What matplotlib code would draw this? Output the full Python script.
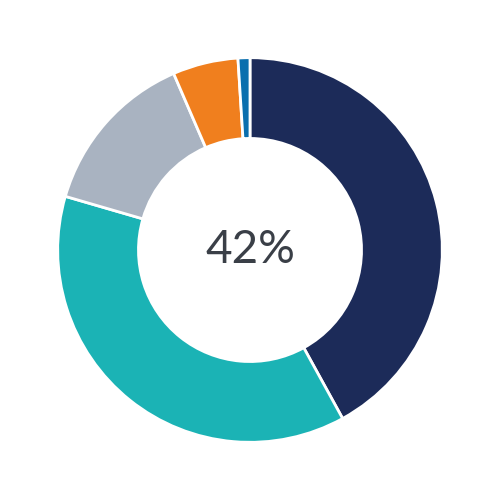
import matplotlib
matplotlib.use("Agg")
import matplotlib.pyplot as plt

labels = ["Navy", "Teal", "Gray", "Orange", "Blue"]
values = [42, 37.5, 14, 5.5, 1]
colors = ["#1c2b59", "#1bb3b5", "#a9b3c1", "#f07f1e", "#0a6fae"]
center_text = "42%"

fig = plt.figure(figsize=(5, 5), dpi=100)
ax = fig.add_axes([0, 0, 1, 1])
ax.pie(values, colors=colors, startangle=90, counterclock=False,
       wedgeprops=dict(width=0.42, edgecolor="white", linewidth=2))
ax.set_xlim(-1.3, 1.3)
ax.set_ylim(-1.3, 1.3)
ax.set_aspect("equal")
ax.axis("off")
ax.text(0, 0, center_text, ha="center", va="center", fontsize=33,
        family="Lato", fontweight="normal", color="#3a3f47")
fig.savefig("out.png", dpi=100)
